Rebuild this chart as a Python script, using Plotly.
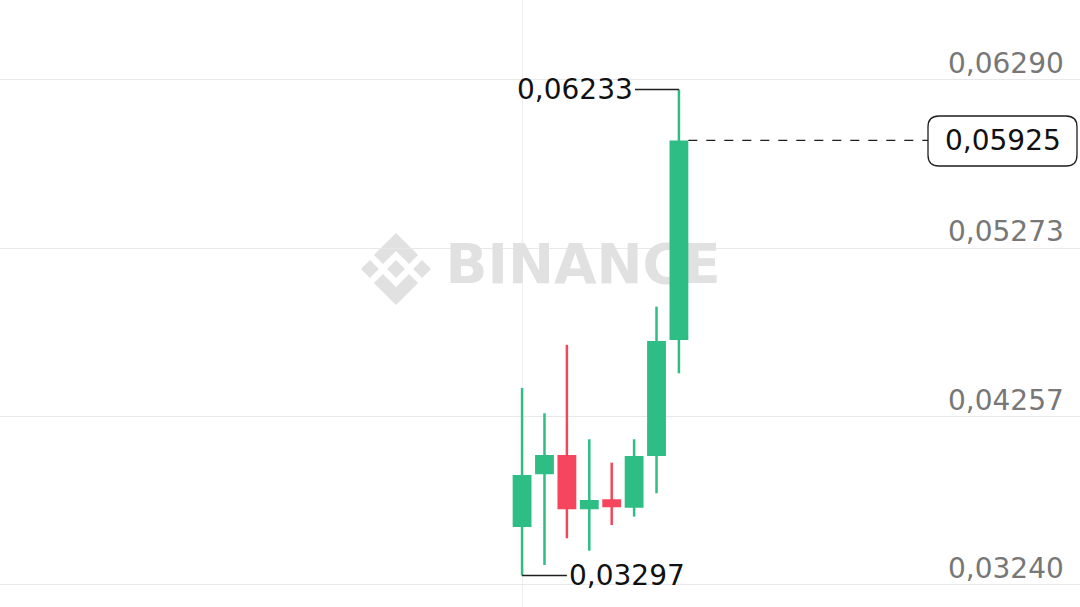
import plotly.graph_objects as go

# candle data
opens = [0.03590, 0.03909, 0.04025, 0.03697, 0.03758, 0.03707, 0.04019, 0.04720]
highs = [0.04430, 0.04277, 0.04690, 0.04120, 0.03979, 0.04120, 0.04921, 0.06233]
lows = [0.03297, 0.03361, 0.03522, 0.03447, 0.03602, 0.03653, 0.03794, 0.04519]
closes = [0.03904, 0.04025, 0.03697, 0.03753, 0.03709, 0.04019, 0.04714, 0.05925]
y_ticks = [0.03240, 0.04257, 0.05273, 0.06290]

GREEN = "#2EBD85"
RED = "#F6465D"
WATERMARK = "#E1E1E1"
FONT = "DejaVu Sans"

W, H = 1080, 607
X0, X1 = -23.3, 24.9
Y0, Y1 = 0.03107, 0.06773
HALF = 0.42


def px_x(px):
    return X0 + px / W * (X1 - X0)


def fmt(v):
    return f"{v:.5f}".replace(".", ",")


fig = go.Figure()

# watermark text (drawn first so candles sit on top of it)
fig.add_trace(go.Scatter(
    x=[px_x(583)], y=[Y1 - 269 / H * (Y1 - Y0)], mode="text", text=["BINANCE"],
    textfont=dict(family=FONT, size=55, color=WATERMARK, weight="bold"),
    hoverinfo="skip", showlegend=False))

# candles: wicks + bodies, grouped by colour
for up, col in [(True, GREEN), (False, RED)]:
    wx, wy, bx, by = [], [], [], []
    for i, (o, h, l, c) in enumerate(zip(opens, highs, lows, closes)):
        if (c >= o) != up:
            continue
        wx += [i, i, None]
        wy += [l, h, None]
        bx += [i - HALF, i + HALF, i + HALF, i - HALF, i - HALF, None]
        by += [o, o, c, c, o, None]
    fig.add_trace(go.Scatter(x=wx, y=wy, mode="lines", line=dict(color=col, width=2.5),
                             hoverinfo="skip", showlegend=False))
    fig.add_trace(go.Scatter(x=bx, y=by, mode="lines", fill="toself", fillcolor=col,
                             line=dict(color=col, width=0), hoverinfo="skip", showlegend=False))

# binance logo watermark (shapes, below traces)
cx, cy, u = 396, 269, 9


def poly(pts):
    s = ""
    for k, (a, b) in enumerate(pts):
        s += ("M" if k == 0 else "L") + f"{(cx + a * u) / W:.5f},{1 - (cy + b * u) / H:.5f} "
    return s + "Z"


def diamond(dx, dy):
    return poly([(dx, dy - 1), (dx + 1, dy), (dx, dy + 1), (dx - 1, dy)])


roof = [(-2.45, -1.55), (0, -4), (2.45, -1.55), (1.45, -0.55), (0, -2.0), (-1.45, -0.55)]
logo = [diamond(0, 0), diamond(-2.9, 0), diamond(2.9, 0), poly(roof),
        poly([(a, -b) for a, b in roof])]
for p in logo:
    fig.add_shape(type="path", path=p, xref="paper", yref="paper",
                  fillcolor=WATERMARK, line=dict(width=0), layer="below")

# y tick labels on the right
for v in y_ticks:
    fig.add_annotation(x=1066 / W, xref="paper", y=v, yref="y", text=fmt(v),
                       xanchor="right", yanchor="bottom", showarrow=False, yshift=-2,
                       font=dict(family=FONT, size=28, color="#777777"))

# high / low markers
hi = highs.index(max(highs))
lo = lows.index(min(lows))
fig.add_shape(type="line", x0=hi - 1.96, x1=hi, y0=highs[hi], y1=highs[hi],
              line=dict(color="#1E1E1E", width=1.5))
fig.add_annotation(x=hi - 1.96, y=highs[hi], text=fmt(highs[hi]), xanchor="right",
                   yanchor="middle", showarrow=False,
                   font=dict(family=FONT, size=28, color="#111111"))
fig.add_shape(type="line", x0=lo, x1=lo + 2.0, y0=lows[lo], y1=lows[lo],
              line=dict(color="#1E1E1E", width=1.5))
fig.add_annotation(x=lo + 2.0, y=lows[lo], text=fmt(lows[lo]), xanchor="left",
                   yanchor="middle", showarrow=False,
                   font=dict(family=FONT, size=28, color="#111111"))

# last price line + rounded label box
last = closes[-1]
fig.add_shape(type="line", x0=len(closes) - 1 + HALF, x1=px_x(928), y0=last, y1=last,
              line=dict(color="#1E1E1E", width=1.2, dash="dash"))
bx0, bx1, by0, by1, r = 928, 1077, 116, 166, 11


def pp(x, y):
    return f"{x / W:.5f},{1 - y / H:.5f}"


box = (f"M{pp(bx0 + r, by0)} L{pp(bx1 - r, by0)} Q{pp(bx1, by0)} {pp(bx1, by0 + r)} "
       f"L{pp(bx1, by1 - r)} Q{pp(bx1, by1)} {pp(bx1 - r, by1)} L{pp(bx0 + r, by1)} "
       f"Q{pp(bx0, by1)} {pp(bx0, by1 - r)} L{pp(bx0, by0 + r)} Q{pp(bx0, by0)} {pp(bx0 + r, by0)} Z")
fig.add_shape(type="path", path=box, xref="paper", yref="paper", fillcolor="white",
              line=dict(color="#1E1E1E", width=1.3))
fig.add_annotation(x=(bx0 + bx1) / 2 / W, xref="paper", y=last, yref="y", text=fmt(last),
                   xanchor="center", yanchor="middle", showarrow=False,
                   font=dict(family=FONT, size=28, color="#111111"))

fig.update_layout(
    width=W, height=H, margin=dict(l=0, r=0, t=0, b=0),
    paper_bgcolor="white", plot_bgcolor="white", showlegend=False,
    xaxis=dict(range=[X0, X1], tickvals=[0], showticklabels=False, showgrid=True,
               gridcolor="#EEEEEE", gridwidth=1, zeroline=False, fixedrange=True),
    yaxis=dict(range=[Y0, Y1], tickvals=y_ticks, showticklabels=False, showgrid=True,
               gridcolor="#E8E8E8", gridwidth=1, zeroline=False, fixedrange=True),
)

# drop the page's default body margin so the chart sits at the window's corner
fig.write_html("out.html", config={"displayModeBar": False},
               post_script="document.body.style.margin='0';")
